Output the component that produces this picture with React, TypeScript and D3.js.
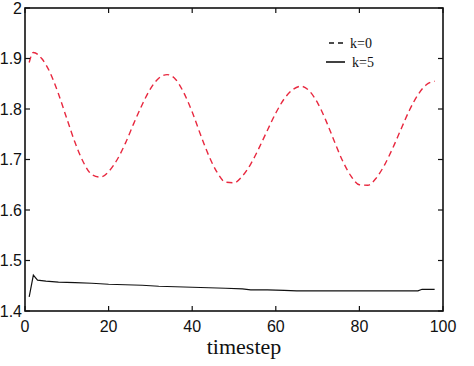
import React from 'react';
import * as d3 from 'd3';

// k=0 series (red dashed)
const k0Steps = [1, 2, 4, 6, 8, 10, 12, 14, 16, 18, 20, 22, 24, 26, 28, 30, 32, 34, 36, 38, 40, 42, 44, 46, 48, 50,
  52, 54, 56, 58, 60, 62, 64, 66, 68, 70, 72, 74, 76, 78, 80, 82, 84, 86, 88, 90, 92, 94, 96, 98];
const k0Values = [1.892, 1.912, 1.900, 1.872, 1.830, 1.781, 1.733, 1.694, 1.670, 1.665, 1.676, 1.699, 1.732, 1.771,
  1.808, 1.840, 1.861, 1.868, 1.859, 1.832, 1.794, 1.749, 1.707, 1.674, 1.655, 1.654,
  1.667, 1.691, 1.723, 1.758, 1.792, 1.820, 1.838, 1.845, 1.836, 1.812, 1.777, 1.736, 1.697, 1.667, 1.650, 1.649,
  1.663, 1.689, 1.723, 1.761, 1.798, 1.828, 1.848, 1.855];

// k=5 series (black solid)
const k5Steps = [1, 2, 3, 5, 8, 12, 16, 20, 24, 28, 32, 36, 40, 44, 48, 52, 54, 58, 62, 65, 70, 80, 90, 94, 95, 98];
const k5Values = [1.428, 1.471, 1.461, 1.459, 1.457, 1.456, 1.455, 1.453, 1.452, 1.451, 1.449, 1.448, 1.447, 1.446,
  1.445, 1.444, 1.442, 1.442, 1.441, 1.440, 1.440, 1.440, 1.440, 1.440, 1.443, 1.443];

const xTicks = [0, 20, 40, 60, 80, 100];
const yTicks = [1.4, 1.5, 1.6, 1.7, 1.8, 1.9, 2];

const legendLabels = ['k=0', 'k=5'];

const App = () => {
  const left = 25, right = 443, top = 8, bottom = 311;
  const x = d3.scaleLinear().domain([0, 100]).range([left, right]);
  const y = d3.scaleLinear().domain([1.4, 2]).range([bottom, top]);

  const red = d3.line<number>()
    .x((_, i) => x(k0Steps[i]))
    .y(d => y(d))
    .curve(d3.curveMonotoneX)(k0Values);
  const black = d3.line<number>()
    .x((_, i) => x(k5Steps[i]))
    .y(d => y(d))(k5Values);

  const sans = 'Liberation Sans, Arial, sans-serif';
  const serif = 'Liberation Serif, Times New Roman, serif';

  return (
    <svg width={474} height={366} style={{ position: 'absolute', left: 0, top: 0, background: '#fff' }}>
      <path d={red || ''} fill="none" stroke="#e8283f" strokeWidth={1.4} strokeDasharray="6,4" />
      <path d={black || ''} fill="none" stroke="#111" strokeWidth={1.2} />

      <rect x={left} y={top} width={right - left} height={bottom - top} fill="none" stroke="#111" strokeWidth={1.6} />

      {xTicks.map(t => (
        <g key={'x' + t}>
          <line x1={x(t)} x2={x(t)} y1={bottom} y2={bottom - 5} stroke="#111" strokeWidth={1.2} />
          <line x1={x(t)} x2={x(t)} y1={top} y2={top + 5} stroke="#111" strokeWidth={1.2} />
          <text x={x(t)} y={bottom + 21} textAnchor="middle" fontFamily={sans} fontSize={16} fill="#111">{t}</text>
        </g>
      ))}
      {yTicks.map(t => (
        <g key={'y' + t}>
          <line x1={left} x2={left + 5} y1={y(t)} y2={y(t)} stroke="#111" strokeWidth={1.2} />
          <line x1={right} x2={right - 5} y1={y(t)} y2={y(t)} stroke="#111" strokeWidth={1.2} />
          <text x={left - 3} y={y(t)} dy="0.36em" textAnchor="end" fontFamily={sans} fontSize={16} fill="#111">{d3.format('')(t)}</text>
        </g>
      ))}

      <text x={244} y={354} textAnchor="middle" fontFamily={serif} fontSize={22} fill="#111">timestep</text>

      <g fontFamily={serif} fontSize={14} fill="#111">
        <line x1={329} x2={343} y1={43} y2={43} stroke="#111" strokeWidth={1.3} strokeDasharray="5,4" />
        <text x={350} y={47.5}>{legendLabels[0]}</text>
        <line x1={326} x2={345} y1={62} y2={62} stroke="#111" strokeWidth={1.6} />
        <text x={352} y={66.5}>{legendLabels[1]}</text>
      </g>
    </svg>
  );
};

export default App;
